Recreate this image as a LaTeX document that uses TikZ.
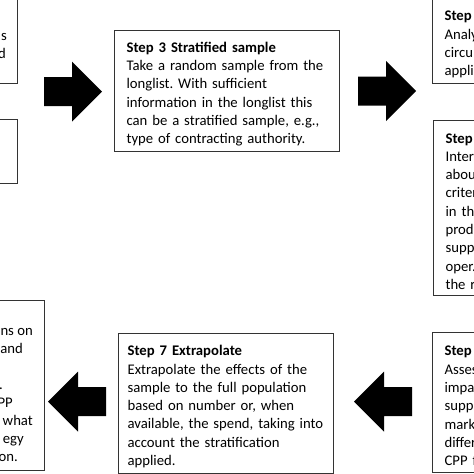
\documentclass[tikz,border=0pt]{standalone}
\usepackage{fontspec}
\setmainfont{Carlito}
\usetikzlibrary{positioning}
\frenchspacing

\tikzset{
    stepbox/.style={draw=black!80, line width=1.2pt, fill=white, inner xsep=12pt, inner ysep=0pt, align=left, font=\fontsize{14.7}{18.3}\selectfont, text=black, execute at begin node=\rule{0pt}{16.5pt}},
    edgebox/.style={draw=black!80, line width=1.2pt, fill=white, inner sep=0pt},
    frag/.style={inner sep=0pt, font=\fontsize{14.7}{18.3}\selectfont, text=black},
    blockarr/.pic={\fill[black] (0,-14.5) -- (28,-14.5) -- (28,-30) -- (58,0) -- (28,30) -- (28,14.5) -- (0,14.5) -- cycle;}
}

\begin{document}
\begin{tikzpicture}[x=1pt, y=-1pt]
\useasboundingbox (0,0) rectangle (474,474);
\clip (0,0) rectangle (474,474);
\fill[white] (0,0) rectangle (474,474);

% boxes cut by the left edge
\node[edgebox, anchor=south east, minimum width=200pt, minimum height=110pt] (s1) at (18,84) {};
\node[edgebox, anchor=north east, minimum width=200pt, minimum height=64pt] (s2) at (18,119) {};
\node[edgebox, anchor=north east, minimum width=250pt, minimum height=170pt] (s8) at (45,300) {};

\node[frag, anchor=base east] (s1a) at (7,40) {s};
\node[frag, anchor=base east] (s1b) at (6,58) {d};
\foreach \txt/\x/\y [count=\i] in {ons on/33/335, and/23/353, ./3/389, PP/13/407, {, what}/33/425, egy/24/443, on./18/461}
    \node[frag, anchor=base east] (s8l\i) at (\x,\y) {\txt};

% full boxes
\node[stepbox, anchor=north west, minimum width=225pt, minimum height=121pt, text width=201pt] (s3) at (114,30)
    {\textbf{Step 3 Stratified sample}\\Take a random sample from the\\longlist. With sufficient\\information in the longlist this\\can be a stratified sample, e.g.,\\type of contracting authority.};
\node[stepbox, anchor=north west, minimum width=215pt, minimum height=140pt, text width=197pt, inner xsep=9pt] (s7) at (118,333)
    {\textbf{Step 7 Extrapolate}\\Extrapolate the effects of the\\sample to the full population\\based on number or, when\\available, the spend, taking into\\account the stratification\\applied.};

% boxes cut by the right edge
\node[stepbox, anchor=north west, minimum width=200pt, minimum height=85pt, text width=176pt] (s4) at (432,-2)
    {\textbf{Step}\\Analy\\circu\\appli};
\node[stepbox, anchor=north west, minimum width=200pt, minimum height=175pt, text width=176pt] (s5) at (433,120)
    {\textbf{Step}\\Inter\\abou\\criter\\in the\\prod\\supp\\oper.\\the r};
\node[stepbox, anchor=north west, minimum width=200pt, minimum height=140pt, text width=176pt] (s6) at (432,332)
    {\textbf{Step}\\Asses\\impa\\supp\\mark\\differ\\CPP f};

% block arrows
\pic (a23) at (44,91.5) {blockarr};
\pic (a34) at (358,91) {blockarr};
\pic[rotate=180] (a78) at (106,401.5) {blockarr};
\pic[rotate=180] (a67) at (412,401.5) {blockarr};
\end{tikzpicture}
\end{document}
